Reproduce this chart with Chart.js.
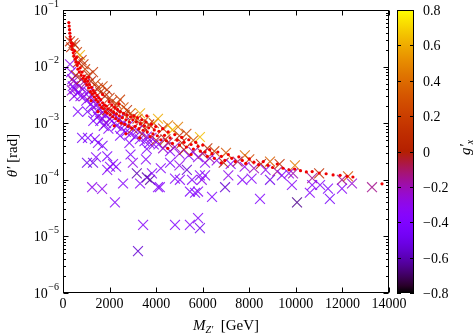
<!DOCTYPE html>
<html>
<head>
<meta charset="utf-8">
<script src="https://cdn.jsdelivr.net/npm/chart.js@4"></script>
<style>
  html, body { margin: 0; padding: 0; background: #fff; }
  canvas { display: block; }
</style>
</head>
<body>
<canvas id="chart" width="474" height="335"></canvas>
<script>
// --- data ---
// red dots: [M_Z' (GeV), theta' (rad)]
const redDots = [
  [250,6.0e-2],[265,5.2e-2],[280,4.5e-2],[295,3.9e-2],[310,3.4e-2],[330,3.0e-2],[350,2.6e-2],[370,2.3e-2],
  [400,2.0e-2],[420,2.5e-2],[440,1.75e-2],[470,1.55e-2],[500,1.9e-2],[520,1.35e-2],[550,1.2e-2],[580,1.45e-2],
  [610,1.05e-2],[640,9.0e-3],[670,1.15e-2],[700,8.0e-3],[740,9.5e-3],[780,7.0e-3],[820,8.0e-3],[860,6.2e-3],
  [900,6.8e-3],[940,5.5e-3],[980,6.0e-3],
  [1020,4.8e-3],[1060,5.5e-3],[1100,4.2e-3],[1100,6.5e-3],[1140,4.8e-3],[1180,3.6e-3],[1200,2.5e-3],[1220,4.3e-3],
  [1260,3.3e-3],[1300,3.8e-3],[1340,2.9e-3],[1380,3.4e-3],[1420,2.6e-3],[1460,3.1e-3],[1500,2.4e-3],[1500,1.6e-3],
  [1540,2.8e-3],[1580,2.1e-3],[1620,2.6e-3],[1660,1.9e-3],[1700,2.3e-3],[1700,3.2e-3],[1740,1.8e-3],[1780,2.1e-3],
  [1820,1.6e-3],[1860,2.0e-3],[1900,1.5e-3],[1940,1.8e-3],[1980,2.4e-3],
  [2020,1.4e-3],[2060,1.7e-3],[2100,2.1e-3],[2140,1.3e-3],[2180,1.55e-3],[2200,9.0e-4],[2220,1.9e-3],[2260,1.2e-3],
  [2300,1.45e-3],[2340,1.75e-3],[2380,1.1e-3],[2400,2.2e-3],[2420,1.35e-3],[2460,1.6e-3],[2500,1.0e-3],[2550,1.25e-3],
  [2600,1.5e-3],[2650,9.5e-4],[2700,1.15e-3],[2700,6.5e-4],[2750,1.4e-3],[2800,8.8e-4],[2850,1.05e-3],[2900,1.3e-3],
  [2950,8.2e-4],
  [3000,1.15e-3],[3050,1.35e-3],[3100,8.8e-4],[3150,1.05e-3],[3200,1.25e-3],[3260,8.0e-4],[3300,5.5e-4],[3320,9.8e-4],
  [3380,1.15e-3],[3440,7.5e-4],[3500,9.0e-4],[3560,1.05e-3],[3600,1.35e-3],[3620,7.0e-4],[3680,8.3e-4],[3740,5.8e-4],
  [3800,9.6e-4],[3860,6.5e-4],[3920,7.6e-4],[3980,8.7e-4],
  [4050,6.0e-4],[4120,7.2e-4],[4200,5.1e-4],[4280,8.0e-4],[4360,6.1e-4],[4440,4.9e-4],[4500,3.6e-4],[4520,7.0e-4],
  [4600,5.5e-4],[4700,4.4e-4],[4800,6.3e-4],[4900,5.0e-4],[5000,4.1e-4],[5100,5.6e-4],[5200,4.6e-4],[5300,3.8e-4],
  [5400,5.1e-4],[5500,4.2e-4],[5500,2.8e-4],[5600,3.5e-4],[5700,4.6e-4],[5800,3.9e-4],[5900,3.2e-4],[6000,4.1e-4],
  [6100,3.1e-4],[6200,2.6e-4],[6300,3.4e-4],[6400,2.9e-4],[6500,2.4e-4],[6650,3.1e-4],[6800,2.6e-4],[6800,2.0e-4],
  [6950,2.2e-4],[7100,2.8e-4],[7250,2.4e-4],[7400,2.1e-4],[7550,2.55e-4],[7700,2.2e-4],[7850,1.95e-4],
  [8000,2.35e-4],[8200,2.05e-4],[8400,1.85e-4],[8600,2.1e-4],[8800,1.8e-4],[9000,1.65e-4],[9200,1.9e-4],[9450,1.6e-4],
  [9700,1.5e-4],[9950,1.55e-4],[10200,1.45e-4],[10450,1.38e-4],[10700,1.4e-4],[11000,1.32e-4],[11300,1.28e-4],
  [11600,1.22e-4],[11900,1.2e-4],[12200,1.15e-4],[12450,1.12e-4],[13700,8.5e-5]
];

// crosses: [M_Z' (GeV), theta' (rad), g'_x]
const crossesUpper = [
  [300,2.8e-2,0.1],[350,2.2e-2,0.05],[450,2.6e-2,0.15],[520,2.4e-2,0.1],[600,1.8e-2,0.2],[730,1.6e-2,0.62],
  [800,1.3e-2,0.15],[650,1.2e-2,0.0],[880,1.1e-2,0.1],[950,9.0e-3,0.2],[1100,7.0e-3,0.1],[1290,8.0e-3,0.15],
  [1200,5.5e-3,0.0],[1400,5.0e-3,0.2],[1500,4.2e-3,0.05],[1600,3.5e-3,0.1],[1700,4.5e-3,0.25],[1890,3.9e-3,0.1],
  [1800,3.0e-3,0.0],[2000,2.8e-3,0.15],[2100,2.4e-3,0.1],[2250,1.8e-3,0.05],[2300,2.2e-3,0.2],[2450,2.6e-3,0.2],
  [2600,1.9e-3,0.3],[2650,1.4e-3,0.05],[2750,1.7e-3,0.1],[2900,1.5e-3,0.25],[3000,1.3e-3,0.15],[3200,1.2e-3,0.2],
  [3310,1.5e-3,0.6],[3400,9.0e-4,0.0],[3500,1.1e-3,0.3],[3700,9.5e-4,0.15],[3900,1.0e-3,0.25],[4080,1.2e-3,0.6],
  [4300,8.0e-4,0.1],[4510,9.2e-4,0.45],[4700,7.6e-4,0.65],[4940,8.6e-4,0.45],[5000,6.0e-4,0.05],[5300,6.5e-4,0.2],
  [5600,5.0e-4,0.3],[5880,5.7e-4,0.65],[6200,3.6e-4,0.1],[6500,3.2e-4,0.2],[7000,3.0e-4,0.3],[7810,2.7e-4,0.4],
  [8000,2.3e-4,0.25],[8500,1.9e-4,0.0],[8890,2.1e-4,0.35],[9300,1.9e-4,0.1],[9960,1.8e-4,0.45],[11000,1.3e-4,0.1],
  [12240,1.15e-4,0.3]
];
const crossesMid = [
  [300,1.1e-2,-0.3],[350,8.0e-3,-0.35],[380,3.8e-3,-0.25],[400,6.0e-3,-0.3],[420,4.5e-3,-0.4],[450,5.5e-3,-0.2],
  [480,3.0e-3,-0.3],[500,4.0e-3,-0.35],[550,7.0e-3,0.0],[600,5.0e-3,-0.3],[640,1.6e-3,-0.4],[650,3.5e-3,-0.4],
  [700,4.5e-3,-0.2],[750,3.0e-3,-0.35],[800,6.0e-3,0.05],[850,4.0e-3,-0.3],[900,3.0e-3,-0.25],[950,5.0e-3,-0.15],
  [1000,2.5e-3,-0.35],[1050,1.6e-3,-0.45],[1100,3.5e-3,-0.35],[1150,2.8e-3,-0.3],[1200,2.2e-3,-0.4],[1250,3.2e-3,-0.05],
  [1300,1.9e-3,-0.35],[1300,1.1e-3,-0.4],[1350,2.5e-3,-0.3],[1400,1.5e-3,-0.4],[1450,2.1e-3,-0.25],[1500,1.3e-3,-0.35],
  [1550,1.8e-3,-0.3],[1600,1.1e-3,-0.4],[1650,1.5e-3,-0.2],[1700,1.2e-3,-0.35],[1750,9.0e-4,-0.4],[1800,1.4e-3,-0.3],
  [1850,1.0e-3,-0.25],[1900,1.7e-3,0.0],[1950,8.0e-4,-0.35],[2000,1.2e-3,-0.3],[2100,1.1e-3,-0.35],[2200,1.4e-3,-0.1],
  [2300,9.0e-4,-0.4],[2400,1.2e-3,-0.3],[2450,6.0e-4,-0.4],[2500,8.0e-4,-0.35],[2600,1.0e-3,-0.2],[2700,7.0e-4,-0.4],
  [2800,9.0e-4,-0.3],[2850,4.5e-4,-0.35],[2900,6.5e-4,-0.35],[3000,8.0e-4,0.0],[3100,5.8e-4,-0.4],[3200,7.5e-4,-0.3],
  [3300,5.2e-4,-0.35],[3400,6.5e-4,-0.05],[3500,4.8e-4,-0.4],[3600,5.8e-4,-0.3],[3600,3.5e-4,-0.4],[3700,4.5e-4,-0.35],
  [3800,5.5e-4,-0.25],[3900,4.2e-4,-0.3],[4000,5.0e-4,-0.05],[4100,4.2e-4,-0.35],[4300,3.6e-4,-0.25],[4400,5.2e-4,0.0],
  [4500,4.5e-4,-0.1],[4600,3.2e-4,-0.35],[4800,3.8e-4,-0.2],[5000,2.9e-4,-0.3],[5100,4.5e-4,0.05],[5200,3.4e-4,0.0],
  [5400,2.7e-4,-0.35],[5600,3.1e-4,-0.2],[5800,2.5e-4,-0.3],[6000,2.9e-4,-0.1],[6100,2.0e-4,-0.35],[6300,2.4e-4,-0.2],
  [6600,2.2e-4,-0.3],[6900,2.0e-4,0.0],[7200,1.9e-4,-0.35],[7500,2.1e-4,-0.1],[7800,1.7e-4,-0.3],[8200,1.6e-4,-0.2],
  [8700,1.5e-4,-0.3],[9200,1.4e-4,-0.15],[9400,1.2e-4,-0.4],[9700,1.3e-4,-0.3],[9880,1.3e-4,-0.2],[10700,1.07e-4,-0.15],
  [11980,1.0e-4,-0.15]
];
const crossesLow = [
  [820,5.5e-4,-0.45],[1070,5.5e-4,-0.4],[1370,5.2e-4,-0.4],[1500,4.5e-4,-0.35],[1700,4.0e-4,-0.45],[1030,2.0e-4,-0.5],
  [1290,2.0e-4,-0.5],[1420,2.5e-4,-0.35],[1900,2.6e-4,-0.4],[1900,1.5e-4,-0.35],[2020,1.7e-4,-0.35],[2150,1.9e-4,-0.35],
  [2280,1.7e-4,-0.35],[2900,2.8e-4,-0.4],[3000,2.0e-4,-0.3],[3560,2.3e-4,-0.35],[1250,7.4e-5,-0.3],[1680,6.9e-5,-0.3],
  [2230,4.0e-5,-0.35],[2580,8.6e-5,-0.35],[3170,1.3e-4,-0.6],[3310,8.6e-5,-0.35],[3600,1.1e-4,-0.6],[3740,1.0e-4,-0.62],
  [3820,1.3e-4,-0.35],[4080,7.4e-5,-0.35],[4160,7.4e-5,-0.35],[4200,1.6e-4,-0.35],[4600,2.0e-4,-0.4],[4810,1.05e-4,-0.35],
  [5000,1.8e-4,-0.3],[5020,1.0e-4,-0.35],[5320,1.5e-4,-0.55],[5540,1.0e-4,-0.35],[5450,6.2e-5,-0.4],[5670,5.9e-5,-0.4],
  [5800,6.2e-5,-0.35],[5880,1.2e-4,-0.35],[5960,1.0e-4,-0.3],[6100,1.2e-4,-0.35],[6400,5.0e-5,-0.4],[6960,7.4e-5,-0.55],
  [7100,1.2e-4,-0.3],[7700,1.0e-4,-0.35],[8100,1.05e-4,-0.35],[8460,4.6e-5,-0.4],[8890,1.0e-4,-0.5],[9830,8.1e-5,-0.35],
  [10050,4.0e-5,-0.65],[10600,5.9e-5,-0.35],[10700,8.1e-5,-0.35],[11040,8.1e-5,-0.35],[11380,7.0e-5,-0.4],[11460,4.6e-5,-0.45],
  [11980,7.0e-5,-0.35],[12410,8.6e-5,-0.25],[13270,7.4e-5,-0.15],[3440,1.6e-5,-0.35],[3220,5.5e-6,-0.55],[4810,1.6e-5,-0.4],
  [5450,1.6e-5,-0.35],[5800,2.1e-5,-0.35],[5880,1.4e-5,-0.5]
];

const xTicks = [0, 2000, 4000, 6000, 8000, 10000, 12000, 14000];
const yDecades = [-6, -5, -4, -3, -2, -1];
const cbTicks = [-0.8, -0.6, -0.4, -0.2, 0, 0.2, 0.4, 0.6, 0.8];
const cbMin = -0.8, cbMax = 0.8;

const SERIF = '"Liberation Serif", "DejaVu Serif", serif';

// matplotlib "gnuplot" colour map
function gnuplot(g, alpha) {
    const t = Math.min(1, Math.max(0, (g - cbMin) / (cbMax - cbMin)));
    const r = Math.sqrt(t);
    const gr = t * t * t;
    const b = Math.max(0, Math.sin(2 * Math.PI * t));
    return `rgba(${Math.round(r * 255)},${Math.round(gr * 255)},${Math.round(b * 255)},${alpha})`;
}

const allCrosses = crossesUpper.concat(crossesMid, crossesLow);

// ticks, labels, frame and colour bar in matplotlib style
const decorPlugin = {
    id: 'decor',
    afterDraw(chart) {
        const { ctx, chartArea: a, scales: { x, y } } = chart;
        ctx.save();
        ctx.strokeStyle = '#000';
        ctx.fillStyle = '#000';
        ctx.lineWidth = 1;

        const L = Math.round(a.left) + 0.5, R = Math.round(a.right) - 0.5;
        const T = Math.round(a.top) + 0.5, B = Math.round(a.bottom) - 0.5;
        ctx.strokeRect(L, T, R - L, B - T);

        ctx.beginPath();
        xTicks.forEach(v => {
            const px = Math.round(x.getPixelForValue(v)) + 0.5;
            ctx.moveTo(px, B); ctx.lineTo(px, B - 5);
            ctx.moveTo(px, T); ctx.lineTo(px, T + 5);
        });
        yDecades.forEach(e => {
            const steps = e === -1 ? [1] : [1, 2, 3, 4, 5, 6, 7, 8, 9];
            steps.forEach(m => {
                const py = Math.round(y.getPixelForValue(m * Math.pow(10, e))) + 0.5;
                const len = m === 1 ? 5 : 2.5;
                ctx.moveTo(L, py); ctx.lineTo(L + len, py);
                ctx.moveTo(R, py); ctx.lineTo(R - len, py);
            });
        });
        ctx.stroke();

        // y tick labels 10^e
        yDecades.forEach(e => {
            const py = y.getPixelForValue(Math.pow(10, e));
            ctx.textBaseline = 'middle';
            ctx.textAlign = 'left';
            ctx.font = '10px ' + SERIF;
            const exp = '\u2212' + (-e);
            const ew = ctx.measureText(exp).width;
            ctx.fillText(exp, a.left - 4 - ew, py - 6);
            ctx.font = '14px ' + SERIF;
            const bw = ctx.measureText('10').width;
            ctx.fillText('10', a.left - 4 - ew - bw - 0.5, py + 1);
        });

        // x title
        ctx.textBaseline = 'alphabetic';
        ctx.textAlign = 'left';
        const parts = [
            { t: 'M', f: 'italic 15px ' + SERIF, dy: 0 },
            { t: 'Z\u2032', f: 'italic 10px ' + SERIF, dy: 3 },
            { t: '  [GeV]', f: '15px ' + SERIF, dy: 0 }
        ];
        let w = 0;
        parts.forEach(p => { ctx.font = p.f; p.w = ctx.measureText(p.t).width; w += p.w; });
        let cx = (a.left + a.right) / 2 - w / 2;
        parts.forEach(p => { ctx.font = p.f; ctx.fillText(p.t, cx, 330 + p.dy); cx += p.w; });

        // y title
        ctx.save();
        ctx.translate(17, (a.top + a.bottom) / 2 + 4);
        ctx.rotate(-Math.PI / 2);
        const yparts = [
            { t: '\u03b8\u2032', f: 'italic 15px ' + SERIF },
            { t: ' [rad]', f: '15px ' + SERIF }
        ];
        w = 0;
        yparts.forEach(p => { ctx.font = p.f; p.w = ctx.measureText(p.t).width; w += p.w; });
        cx = -w / 2;
        yparts.forEach(p => { ctx.font = p.f; ctx.fillText(p.t, cx, 0); cx += p.w; });
        ctx.restore();

        // colour bar
        const cbL = Math.round(a.right) + 8, cbR = cbL + 17;
        const grad = ctx.createLinearGradient(0, a.bottom, 0, a.top);
        for (let i = 0; i <= 40; i++) {
            const t = i / 40;
            grad.addColorStop(t, gnuplot(cbMin + t * (cbMax - cbMin), 1));
        }
        ctx.fillStyle = grad;
        ctx.fillRect(cbL, a.top, cbR - cbL, a.bottom - a.top);
        ctx.strokeStyle = '#000';
        ctx.strokeRect(cbL + 0.5, T, cbR - cbL - 1, B - T);
        ctx.fillStyle = '#000';
        ctx.font = '14px ' + SERIF;
        ctx.textBaseline = 'middle';
        ctx.textAlign = 'left';
        ctx.beginPath();
        cbTicks.forEach(v => {
            const py = Math.round(a.bottom - (v - cbMin) / (cbMax - cbMin) * (a.bottom - a.top)) + 0.5;
            ctx.moveTo(cbL, py); ctx.lineTo(cbL + 4, py);
            ctx.moveTo(cbR, py); ctx.lineTo(cbR - 4, py);
            const label = v === 0 ? '0' : (v < 0 ? '\u2212' : '') + Math.abs(v).toFixed(1);
            ctx.fillText(label, cbR + 9, py + 1);
        });
        ctx.stroke();

        // colour bar title
        ctx.save();
        ctx.translate(470, (a.top + a.bottom) / 2 - 4);
        ctx.rotate(-Math.PI / 2);
        ctx.textBaseline = 'alphabetic';
        const gparts = [
            { t: 'g\u2032', f: 'italic 15px ' + SERIF, dy: 0 },
            { t: 'x', f: 'italic 10px ' + SERIF, dy: 3 }
        ];
        w = 0;
        gparts.forEach(p => { ctx.font = p.f; p.w = ctx.measureText(p.t).width; w += p.w; });
        cx = -w / 2;
        gparts.forEach(p => { ctx.font = p.f; ctx.fillText(p.t, cx, p.dy); cx += p.w; });
        ctx.restore();

        ctx.restore();
    }
};

new Chart(document.getElementById('chart'), {
    type: 'scatter',
    data: {
        datasets: [
            {
                label: 'red',
                data: redDots.map(p => ({ x: p[0], y: p[1] })),
                pointStyle: 'circle',
                pointRadius: 1.6,
                backgroundColor: 'rgb(240,0,0)',
                borderWidth: 0
            },
            {
                label: 'crosses',
                data: allCrosses.map(p => ({ x: p[0], y: p[1] })),
                pointStyle: 'crossRot',
                pointRadius: 7,
                borderWidth: 1.1,
                borderColor: ctx => gnuplot(allCrosses[ctx.dataIndex][2], 0.85),
                backgroundColor: 'transparent'
            }
        ]
    },
    options: {
        responsive: false,
        animation: false,
        events: [],
        layout: { padding: { top: 10, right: 85, left: 0, bottom: 0 } },
        plugins: { legend: { display: false }, tooltip: { enabled: false } },
        scales: {
            x: {
                type: 'linear',
                min: 0,
                max: 14000,
                afterBuildTicks: s => { s.ticks = xTicks.map(v => ({ value: v })); },
                afterFit: s => { s.height = 42; },
                grid: { display: false, drawTicks: false },
                border: { display: false },
                ticks: {
                    autoSkip: false,
                    maxRotation: 0,
                    padding: 3,
                    color: '#000',
                    font: { family: SERIF, size: 14 },
                    callback: v => String(v)
                }
            },
            y: {
                type: 'logarithmic',
                min: 1e-6,
                max: 1e-1,
                afterFit: s => { s.width = 63; },
                grid: { display: false, drawTicks: false },
                border: { display: false },
                ticks: { display: false }
            }
        }
    },
    plugins: [decorPlugin]
});
</script>
</body>
</html>
